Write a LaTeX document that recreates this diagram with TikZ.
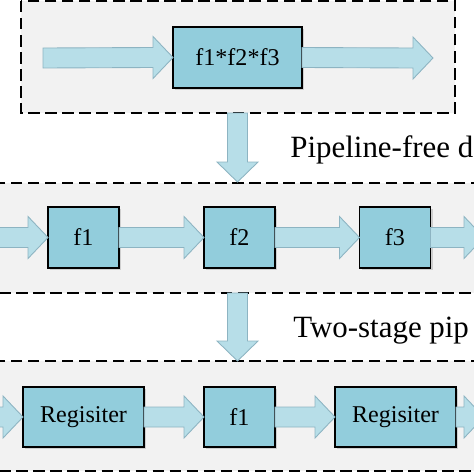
\documentclass[tikz,border=0pt]{standalone}
\usepackage{fontspec}
\setmainfont{Liberation Serif}
\usetikzlibrary{calc,shadows,positioning}

\definecolor{boxblue}{HTML}{92CDDC}
\definecolor{arrowblue}{HTML}{B7DEE8}
\definecolor{arrowline}{HTML}{8DB4C2}
\definecolor{panelgray}{HTML}{F2F2F2}

\tikzset{
	stage/.style={draw=black, fill=panelgray, line width=1.1pt, dash pattern=on 6.5pt off 3.2pt},
	fbox/.style={draw=black, fill=boxblue, line width=0.9pt, inner sep=0pt, outer sep=0pt,
		minimum height=1.21cm, font=\fontsize{13.7}{15}\selectfont,
		drop shadow={opacity=0.3, shadow xshift=1.2pt, shadow yshift=-1.2pt}},
	lbl/.style={anchor=base west, inner sep=0pt, font=\fontsize{17.6}{20}\selectfont},
	fat/.style={draw=arrowline, fill=arrowblue, line width=0.5pt, line join=miter},
	harrow/.style={fat, to path={($(\tikztostart)+(0,-10)$) -- ($(\tikztotarget)+(-20,-10)$)
		-- ($(\tikztotarget)+(-20,-21)$) -- (\tikztotarget) -- ($(\tikztotarget)+(-20,21)$)
		-- ($(\tikztotarget)+(-20,10)$) -- ($(\tikztostart)+(0,10)$) -- cycle}},
	varrow/.style={fat, to path={($(\tikztostart)+(-10,0)$) -- ($(\tikztotarget)+(-10,-20)$)
		-- ($(\tikztotarget)+(-20.5,-20)$) -- (\tikztotarget) -- ($(\tikztotarget)+(20.5,-20)$)
		-- ($(\tikztotarget)+(10,-20)$) -- ($(\tikztostart)+(10,0)$) -- cycle}}
}

\begin{document}
\begin{tikzpicture}[x=0.02cm, y=-0.02cm]
		\useasboundingbox (0,0) rectangle (474,474);

		% stages
		\draw[stage] (21,1) rectangle (455,113);
		\draw[stage] (-10,183) rectangle (484,293);
		\draw[stage] (-10,361) rectangle (484,471);

		% pipeline-free
		\coordinate (in0) at (43,58);
		\coordinate (out0) at (433,58);
		\node (F) [fbox, minimum width=2.58cm] at (237.5,57.5) {f1*f2*f3};
		\draw[harrow] (in0) to (F.west);
		\draw[harrow] (F.east) to (out0);

		\coordinate (d1s) at (237.5,113);
		\coordinate (d1e) at (237.5,182);
		\draw[varrow] (d1s) to (d1e);
		\node (t1) [lbl] at (290,157) {Pipeline-free d};

		% three functions
		\coordinate (in1) at (-10,237.5);
		\coordinate (out1) at (484,237.5);
		\node (f1) [fbox, minimum width=1.42cm] at (83.5,237.5) {f1};
		\node (f2) [fbox, minimum width=1.42cm] at (239.5,237.5) {f2};
		\node (f3) [fbox, minimum width=1.42cm] at (395,237.5) {f3};
		\draw[harrow] (in1) to (f1.west);
		\draw[harrow] (f1.east) to (f2.west);
		\draw[harrow] (f2.east) to (f3.west);
		\draw[harrow] (f3.east) to (out1);

		\coordinate (d2s) at (237.5,293);
		\coordinate (d2e) at (237.5,361);
		\draw[varrow] (d2s) to (d2e);
		\node (t2) [lbl] at (293,337) {Two-stage pip};

		% two-stage
		\coordinate (in2) at (-10,417);
		\coordinate (out2) at (484,417);
		\node (r1) [fbox, minimum width=2.42cm] at (83.5,417) {Regisiter};
		\node (g1) [fbox, minimum width=1.42cm] at (239.5,417) {f1};
		\node (r2) [fbox, minimum width=2.42cm] at (395.5,417) {Regisiter};
		\draw[harrow] (in2) to (r1.west);
		\draw[harrow] (r1.east) to (g1.west);
		\draw[harrow] (g1.east) to (r2.west);
		\draw[harrow] (r2.east) to (out2);

	\end{tikzpicture}
\end{document}
